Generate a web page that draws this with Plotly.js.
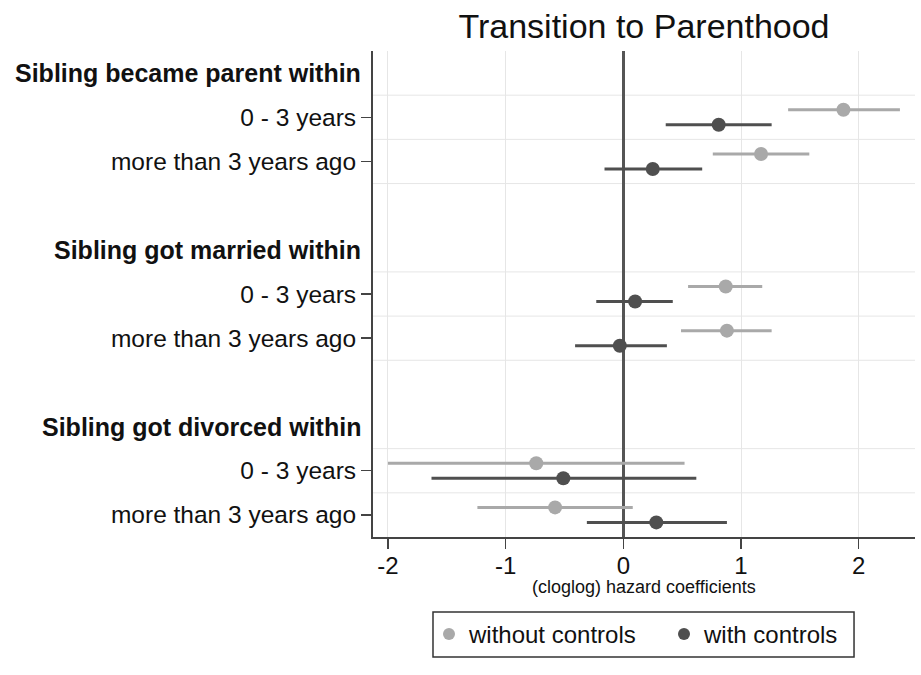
<!DOCTYPE html>
<html>
<head>
<meta charset="utf-8">
<script src="https://cdn.plot.ly/plotly-3.0.1.min.js"></script>
<style>
  body { margin: 0; background: #fff; }
  #chart { width: 921px; height: 675px; }
</style>
</head>
<body>
<div id="chart"></div>
<script>
// row positions on the y axis (0 = top heading)
const rowPos = [1, 2, 5, 6, 9, 10];
const rowLabels = [
  "0 - 3 years", "more than 3 years ago",
  "0 - 3 years", "more than 3 years ago",
  "0 - 3 years", "more than 3 years ago",
];
const headingPos = [0, 4, 8];
const headingText = [
  "Sibling became parent within",
  "Sibling got married within",
  "Sibling got divorced within",
];
const gridRows = [0.5, 1.5, 2.5, 4.5, 5.5, 6.5, 8.5, 9.5];

// estimates
const noCtrlCoef = [1.87, 1.17, 0.87, 0.88, -0.74, -0.58];
const noCtrlLow = [1.40, 0.76, 0.55, 0.49, -2.00, -1.24];
const noCtrlHigh = [2.35, 1.58, 1.18, 1.26, 0.52, 0.08];

const ctrlCoef = [0.81, 0.25, 0.10, -0.03, -0.51, 0.28];
const ctrlLow = [0.36, -0.16, -0.23, -0.41, -1.63, -0.31];
const ctrlHigh = [1.26, 0.67, 0.42, 0.37, 0.62, 0.88];

const offset = 0.17;
const light = "#a9a9a9";
const dark = "#4f4f4f";

const makeTrace = (name, coef, low, high, shift, color) => ({
  type: "scatter",
  mode: "markers",
  name: name,
  x: coef,
  y: rowPos.map((r) => r + shift),
  marker: { color: color, size: 14 },
  error_x: {
    type: "data",
    symmetric: false,
    array: coef.map((c, i) => high[i] - c),
    arrayminus: coef.map((c, i) => c - low[i]),
    color: color,
    thickness: 3,
    width: 0,
  },
  cliponaxis: false,
});

const traces = [
  makeTrace("without controls", noCtrlCoef, noCtrlLow, noCtrlHigh, -offset, light),
  makeTrace("with controls", ctrlCoef, ctrlLow, ctrlHigh, offset, dark),
];

const font = "Liberation Sans, Arial, sans-serif";

const gridShapes = gridRows.map((g) => ({
  type: "line",
  xref: "paper",
  x0: 0,
  x1: 1,
  yref: "y",
  y0: g,
  y1: g,
  layer: "below",
  line: { color: "#e6e6e6", width: 1 },
}));

// frame round the legend (plotly's own border would be too wide with entrywidth)
const legendFrame = {
  type: "rect",
  xref: "paper",
  yref: "paper",
  x0: 0.1107,
  x1: 0.8875,
  y0: -0.1543,
  y1: -0.2469,
  line: { color: "#333", width: 1.5 },
  fillcolor: "rgba(0,0,0,0)",
};

const layout = {
  width: 921,
  height: 675,
  margin: { l: 373, r: 6, t: 51, b: 138 },
  paper_bgcolor: "#fff",
  plot_bgcolor: "#fff",
  font: { family: font, color: "#111", size: 24 },
  showlegend: true,
  title: {
    text: "Transition to Parenthood",
    font: { family: font, size: 34, color: "#111" },
    xref: "paper",
    x: 0.5,
    xanchor: "center",
    yref: "container",
    y: 0.962,
    yanchor: "middle",
  },
  xaxis: {
    range: [-2.127, 2.478],
    tickvals: [-2, -1, 0, 1, 2],
    ticktext: ["-2", "-1", "0", "1", "2"],
    ticks: "outside",
    ticklen: 10,
    tickwidth: 1.5,
    tickcolor: "#444",
    ticklabelstandoff: -4,
    tickfont: { size: 24, color: "#111" },
    showline: true,
    linecolor: "#444",
    linewidth: 2,
    showgrid: true,
    gridcolor: "#e6e6e6",
    gridwidth: 1,
    zeroline: true,
    zerolinecolor: "#555",
    zerolinewidth: 2.5,
  },
  yaxis: {
    range: [10.5, -0.5],
    tickvals: rowPos,
    ticktext: rowLabels,
    ticks: "outside",
    ticklen: 10,
    tickwidth: 1.5,
    tickcolor: "#444",
    tickfont: { size: 24.5, color: "#111" },
    showline: true,
    linecolor: "#444",
    linewidth: 2,
    showgrid: false,
    zeroline: false,
  },
  shapes: gridShapes.concat([legendFrame]),
  annotations: headingPos.map((p, i) => ({
    text: "<b>" + headingText[i] + "</b>",
    xref: "paper",
    x: 0,
    xanchor: "right",
    xshift: -10,
    yref: "y",
    y: p,
    yanchor: "middle",
    showarrow: false,
    font: { size: 25, color: "#111" },
  })).concat([
    {
      // x axis title, placed by hand under the tick labels
      text: "(cloglog) hazard coefficients",
      xref: "paper",
      x: 0.5,
      xanchor: "center",
      yref: "paper",
      y: -0.103,
      yanchor: "middle",
      showarrow: false,
      font: { size: 18, color: "#111" },
    },
  ]),
  legend: {
    orientation: "h",
    xref: "paper",
    x: 0.1033,
    xanchor: "left",
    yref: "container",
    y: 0.06,
    yanchor: "middle",
    borderwidth: 0,
    bgcolor: "rgba(0,0,0,0)",
    entrywidth: 190,
    font: { size: 24, color: "#111" },
    itemsizing: "constant",
  },
};

Plotly.newPlot("chart", traces, layout, { displayModeBar: false, staticPlot: true });
</script>
</body>
</html>
